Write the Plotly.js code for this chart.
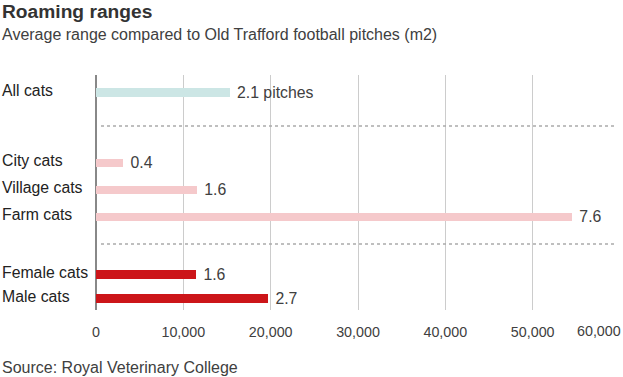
<!DOCTYPE html>
<html>
<head>
<meta charset="utf-8">
<script src="https://cdn.plot.ly/plotly-3.0.1.min.js"></script>
<style>html,body{margin:0;padding:0;background:#fff;}#chart{width:623px;height:377px;}</style>
</head>
<body>
<div id="chart"></div>
<script>
// Data
var categories = ["All cats", "City cats", "Village cats", "Farm cats", "Female cats", "Male cats"];
var rangesM2 = [15300, 3100, 11550, 54500, 11450, 19700];
var pitchLabels = ["2.1 pitches", "0.4", "1.6", "7.6", "1.6", "2.7"];
var groups = ["all", "place", "place", "place", "sex", "sex"];
var xTickVals = [0, 10000, 20000, 30000, 40000, 50000, 60000];
var xTickText = ["0", "10,000", "20,000", "30,000", "40,000", "50,000", "60,000"];

// Layout slots (row positions) and styling
var rowSlots = [0, 2.61, 3.61, 4.61, 6.74, 7.63];
var separatorSlots = [1.24, 5.61];
var groupColors = {all: "#cce6e5", place: "#f5c9cb", sex: "#cc1519"};
var FONT = "Liberation Sans, Arial, Helvetica, sans-serif";
var TXT = "#404040";
var LEFTX = (0 - 96) / 524;

var trace = {
  type: "bar",
  orientation: "h",
  x: rangesM2,
  y: rowSlots,
  width: 0.33,
  marker: {color: groups.map(function(g){ return groupColors[g]; })},
  text: pitchLabels,
  texttemplate: "\u00a0%{text}",
  textposition: "outside",
  textfont: {family: FONT, size: 15.8, color: TXT},
  constraintext: "none",
  cliponaxis: false,
  hoverinfo: "none"
};

var annotations = categories.map(function(c, i){
  return {
    text: c, xref: "paper", yref: "y", x: LEFTX, y: rowSlots[i],
    xanchor: "left", yanchor: "middle", yshift: 2, showarrow: false,
    font: {family: FONT, size: 15.8, color: "#222"}
  };
});
annotations.push({
  text: "Average range compared to Old Trafford football pitches (m2)",
  xref: "paper", yref: "paper", x: LEFTX, y: 1 + (75 - 35) / 235,
  xanchor: "left", yanchor: "middle", showarrow: false,
  font: {family: FONT, size: 16, color: "#404040"}
});
annotations.push({
  text: "Source: Royal Veterinary College",
  xref: "paper", yref: "paper", x: LEFTX, y: -(367 - 310) / 235,
  xanchor: "left", yanchor: "middle", showarrow: false,
  font: {family: FONT, size: 16, color: "#404040"}
});
annotations.push({
  text: xTickText[xTickText.length - 1],
  xref: "x", yref: "paper", x: xTickVals[xTickVals.length - 1], y: -(331 - 310) / 235,
  xanchor: "right", yanchor: "middle", showarrow: false, xshift: 3,
  font: {family: FONT, size: 14.3, color: TXT}
});

var shapes = separatorSlots.map(function(s){
  return {
    type: "line", xref: "paper", yref: "y", x0: 5 / 524, x1: 519 / 524, y0: s, y1: s,
    line: {color: "#aaaaaa", width: 1.5, dash: "dot"}
  };
});

var layout = {
  width: 623, height: 377,
  margin: {l: 96, r: 3, t: 75, b: 67},
  paper_bgcolor: "#fff", plot_bgcolor: "#fff",
  showlegend: false,
  title: {
    text: "<b>Roaming ranges</b>", xref: "container", yref: "container",
    x: 2 / 623, xanchor: "left", y: 1 - 11 / 377, yanchor: "middle",
    font: {family: FONT, size: 19.2, color: "#333"}
  },
  xaxis: {
    range: [0, 60000], tickvals: xTickVals,
    ticktext: xTickText.map(function(t, i){ return i === xTickText.length - 1 ? "" : t; }),
    showgrid: true, gridcolor: "#cccccc", gridwidth: 1,
    zeroline: true, zerolinecolor: "#888888", zerolinewidth: 2,
    showline: false, ticks: "outside", ticklen: 9, tickcolor: "rgba(0,0,0,0)",
    tickfont: {family: FONT, size: 14.3, color: TXT}, fixedrange: true
  },
  yaxis: {
    range: [8.056, -0.648], showgrid: false, zeroline: false, showline: false,
    showticklabels: false, ticks: "", fixedrange: true
  },
  annotations: annotations,
  shapes: shapes,
  bargap: 0
};

Plotly.newPlot("chart", [trace], layout, {displayModeBar: false, staticPlot: true});
</script>
</body>
</html>
